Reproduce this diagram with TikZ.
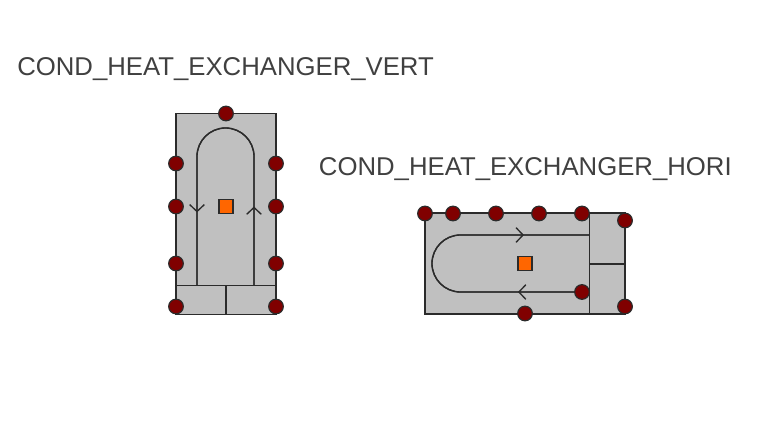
\documentclass[tikz,border=0pt]{standalone}
\usepackage{fontspec}
\setmainfont{Liberation Sans}
\usepackage{xcolor}
\usetikzlibrary{arrows.meta,decorations.markings}
\definecolor{housingfill}{HTML}{C0C0C0}
\definecolor{edgegray}{HTML}{2B2B2B}
\definecolor{portred}{HTML}{800000}
\definecolor{sensororange}{HTML}{FF6600}
\definecolor{titlegray}{HTML}{404040}
\tikzset{
  housing/.style={
    rectangle, draw=edgegray, fill=housingfill,
    line width=1pt, inner sep=0pt, outer sep=0pt},
  port/.style={
    circle, draw=edgegray, fill=portred,
    line width=0.9pt, minimum size=11pt, inner sep=0pt},
  sensor/.style={
    rectangle, draw=edgegray, fill=sensororange,
    line width=0.9pt, minimum size=10.5pt, inner sep=0pt},
  title/.style={
    anchor=base west, inner sep=0pt, text=titlegray, font=\fontsize{19.3pt}{23pt}\selectfont},
  divider/.style={draw=edgegray, line width=1pt},
  tube/.style={draw=edgegray, line width=1pt, rounded corners=21.375pt},
  barb/.style={
    postaction={decorate},
    decoration={markings, mark=at position #1 with {\arrow[edgegray, line width=1pt]{Straight Barb[length=5.2pt,width=11pt]}}}},
}
\begin{document}
\begin{tikzpicture}[x=0.75pt,y=-0.75pt]
  \useasboundingbox (0,0) rectangle (760,428);
  \node[title] (vertname) at (17,75) {COND\_HEAT\_EXCHANGER\_VERT};
  \node[title] (horiname) at (318.7,175) {COND\_HEAT\_EXCHANGER\_HORI};

  % vertical unit
  \node[housing, minimum width=75pt, minimum height=150.75pt] (vert) at (226,214) {};
  \coordinate (vl) at (176,285.5);
  \coordinate (vr) at (276,285.5);
  \coordinate (vm) at (226,285.5);
  \coordinate (va) at (197,285.5);
  \coordinate (vb) at (254,285.5);
  \draw[divider] (vl) -- (vr);
  \draw[divider] (vm) -- (vert.south);
  \draw[tube, barb=59.25pt] (vb) -- (254,128) -- (197,128) -- (va);
  \draw[tube, barb=205.9pt] (vb) -- (254,128) -- (197,128) -- (va);
  \node[sensor] (vs) at (226,206.5) {};
  \node[port] (v1) at (226,113.5) {};
  \node[port] (v2) at (176,163.5) {};
  \node[port] (v3) at (276,163.5) {};
  \node[port] (v4) at (176,206.5) {};
  \node[port] (v5) at (276,206.5) {};
  \node[port] (v6) at (176,263.5) {};
  \node[port] (v7) at (276,263.5) {};
  \node[port] (v8) at (176,306.5) {};
  \node[port] (v9) at (276,306.5) {};

  % horizontal unit
  \node[housing, minimum width=150pt, minimum height=75.75pt] (hori) at (525,263.5) {};
  \coordinate (ht) at (589.5,213);
  \coordinate (hb) at (589.5,314);
  \coordinate (hm) at (589.5,264);
  \coordinate (hr) at (625,264);
  \coordinate (ha) at (582,292);
  \coordinate (hc) at (589.5,235);
  \draw[divider] (ht) -- (hb);
  \draw[divider] (hm) -- (hr);
  \draw[tube, barb=48pt] (ha) -- (432,292) -- (432,235) -- (hc);
  \draw[tube, barb=205.9pt] (ha) -- (432,292) -- (432,235) -- (hc);
  \node[sensor] (hs) at (525,263.5) {};
  \node[port] (h1) at (425,213.5) {};
  \node[port] (h2) at (453,213.5) {};
  \node[port] (h3) at (496,213.5) {};
  \node[port] (h4) at (539,213.5) {};
  \node[port] (h5) at (582,213.5) {};
  \node[port] (h6) at (625,220.5) {};
  \node[port] (h7) at (582,292) {};
  \node[port] (h8) at (625,306.5) {};
  \node[port] (h9) at (525,313.5) {};
\end{tikzpicture}
\end{document}
